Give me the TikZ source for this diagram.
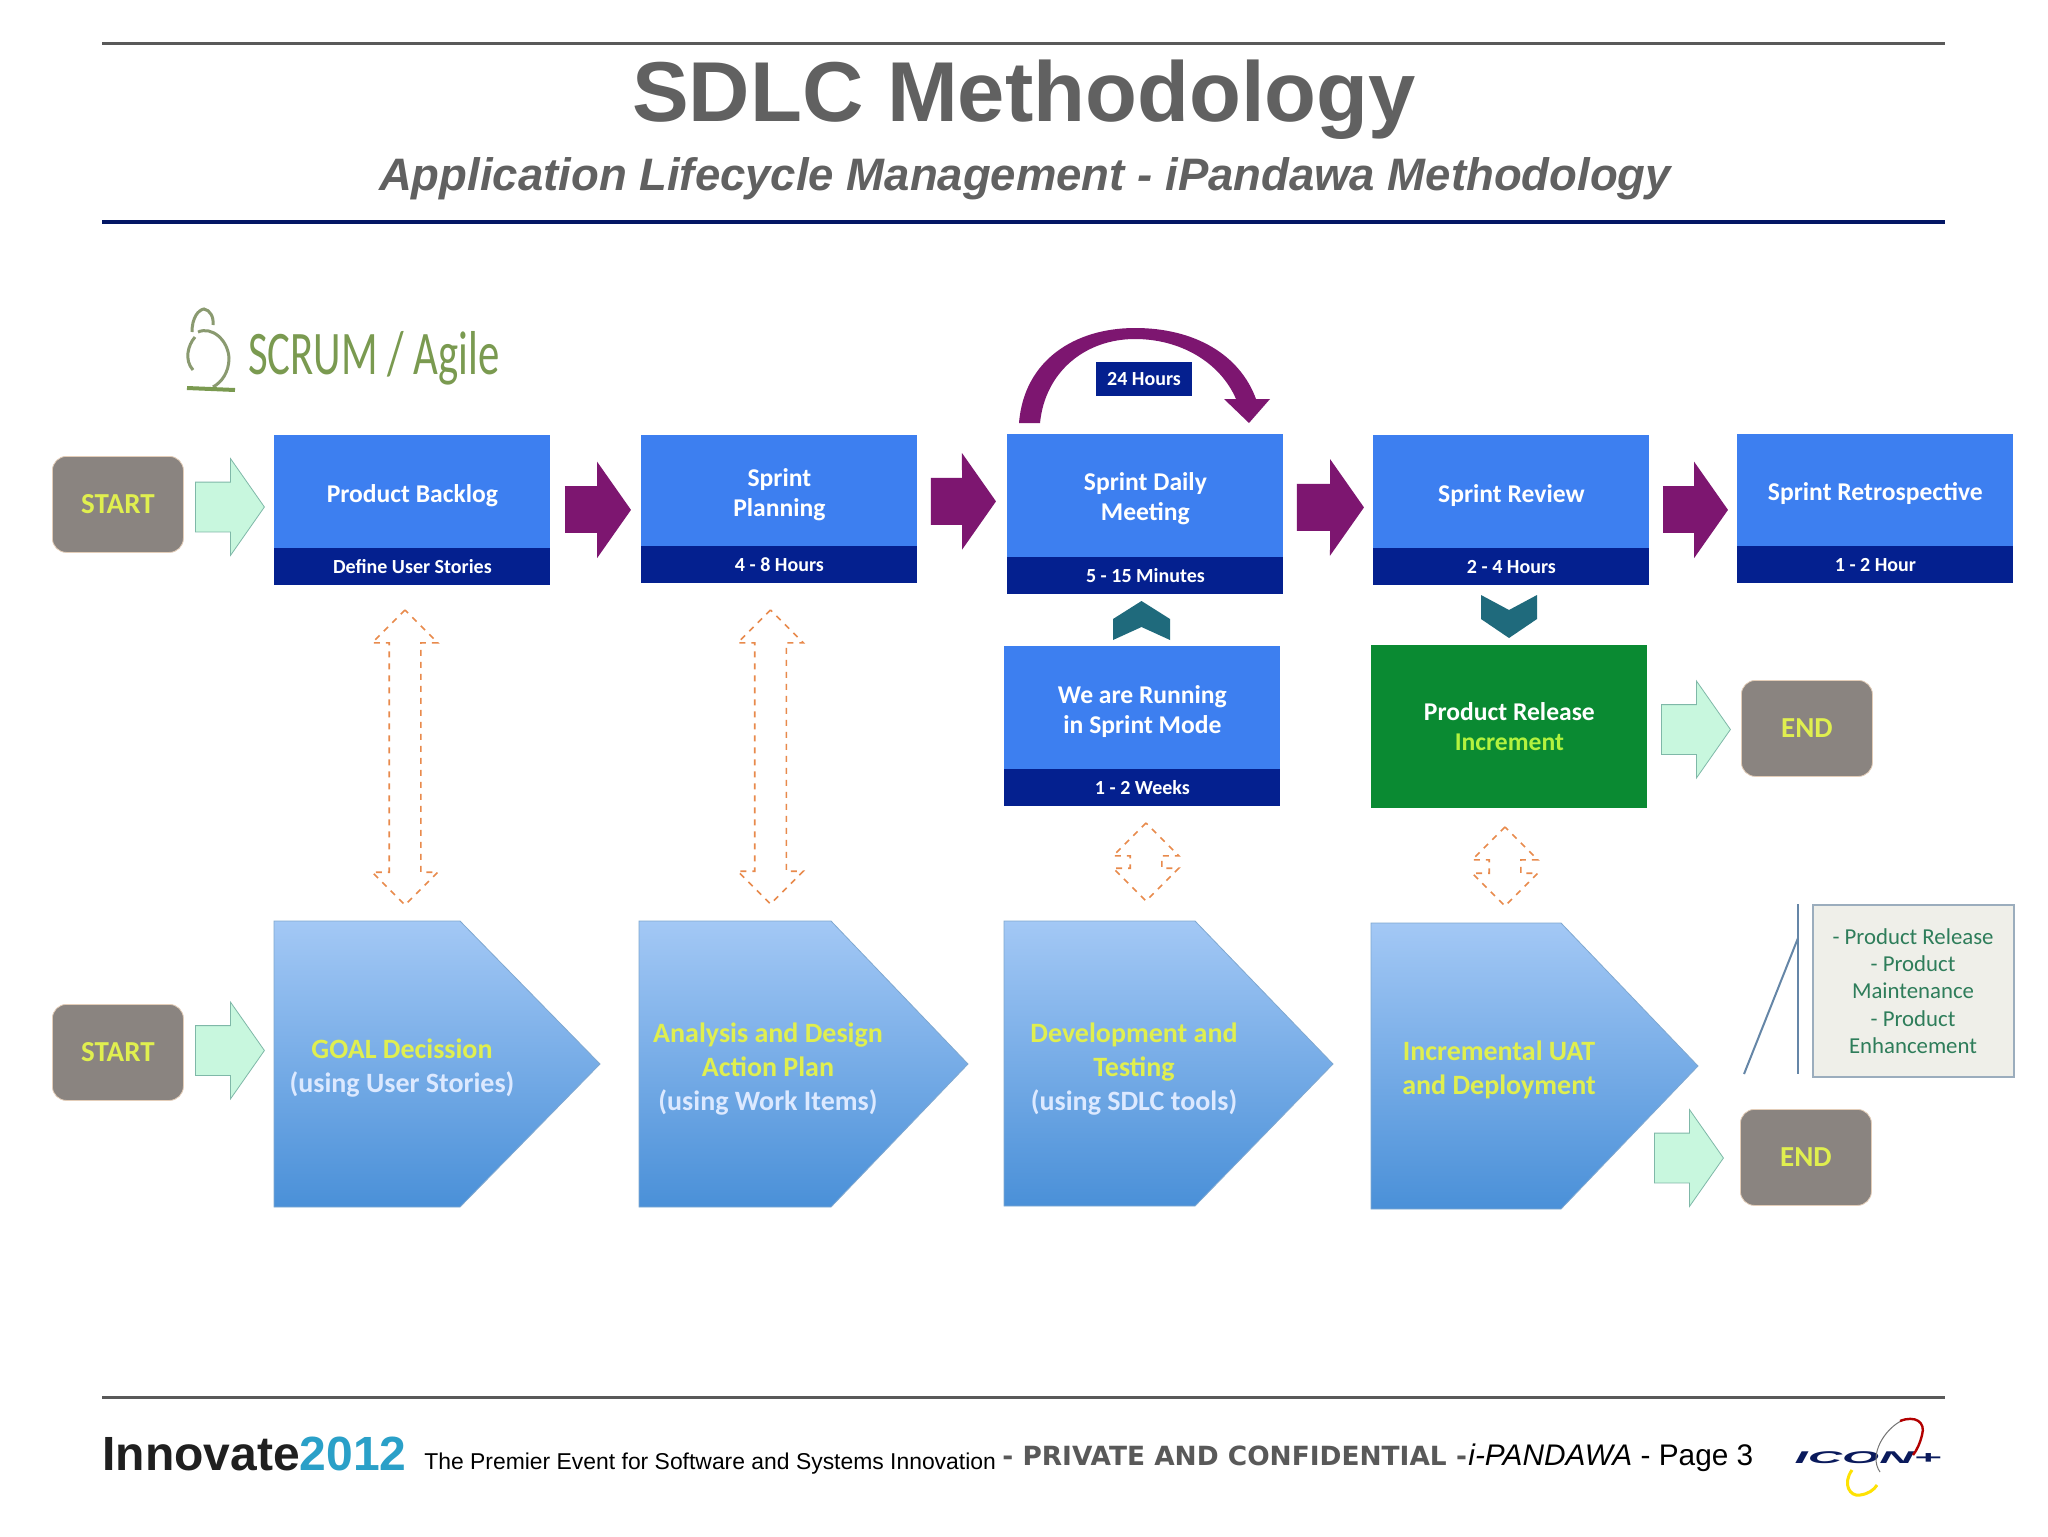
\documentclass[tikz,border=0pt]{standalone}
\usepackage{fontspec}
\usepackage{xcolor}
\usepackage{tikz}
\usetikzlibrary{arrows.meta,positioning,shapes.arrows}
\setmainfont{Carlito}
\newfontfamily\arialfont{Liberation Sans}
\newfontfamily\stampfont{DejaVu Sans}

\definecolor{boxblue}{HTML}{3D7FF0}
\definecolor{bandblue}{HTML}{04208F}
\definecolor{leafgreen}{HTML}{0A8A32}
\definecolor{endgray}{HTML}{8A8480}
\definecolor{palegreen}{HTML}{C8F7DE}
\definecolor{paleedge}{HTML}{7FB8A8}
\definecolor{plum}{HTML}{7D1670}
\definecolor{tealdark}{HTML}{1F6A7C}
\definecolor{dashorange}{HTML}{E88A4C}
\definecolor{penttop}{HTML}{A3C8F5}
\definecolor{pentbot}{HTML}{4A90D8}
\definecolor{pentedge}{HTML}{7FA8D0}
\definecolor{lime}{HTML}{E0EF4F}
\definecolor{paletext}{HTML}{DCE9FF}
\definecolor{notegreen}{HTML}{2E7D5A}
\definecolor{notefill}{HTML}{EFEFE9}
\definecolor{scrumgreen}{HTML}{7A9A50}
\definecolor{sprig}{HTML}{8A9A70}
\definecolor{iconnavy}{HTML}{0A1A5C}

\begin{document}
\begin{tikzpicture}[
  x=0.5pt, y=-0.5pt,
  box/.style={rectangle, fill=boxblue, text=white, inner sep=0pt, minimum width=138pt,
    minimum height=60pt, align=center, anchor=north west,
    font=\fontsize{12.8}{15}\selectfont\bfseries},
  bandbox/.style={rectangle, fill=bandblue, text=white, inner sep=0pt, minimum width=138pt,
    minimum height=18.5pt, align=center, font=\fontsize{10}{11}\selectfont\bfseries},
  ends/.style={rectangle, rounded corners=7pt, fill=endgray, draw=endgray!60!orange!40, text=lime,
    inner sep=0pt, minimum width=65.5pt, minimum height=48pt, anchor=north west,
    font=\fontsize{14.5}{15}\selectfont\bfseries},
  palearrow/.style={single arrow, draw=paleedge, fill=palegreen, inner xsep=0pt, inner ysep=12.25pt,
    minimum height=34.5pt, minimum width=48pt, single arrow head extend=11.75pt,
    single arrow tip angle=110, anchor=tail},
  fatarrow/.style={plum, line width=23.5pt, -{Triangle[length=17pt,width=47.5pt]}},
  dashlink/.style={double arrow, draw=dashorange, dashed, thick, inner xsep=0pt, inner ysep=7.5pt, rotate=90,
    minimum width=32pt, double arrow head extend=8.5pt, double arrow tip angle=90},
  pent/.style={top color=penttop, bottom color=pentbot, draw=pentedge},
  penttext/.style={text=paletext, align=center, inner sep=0pt,
    font=\fontsize{14}{17}\selectfont\bfseries},
  chev/.style={fill=tealdark}
]
\useasboundingbox[fill=white] (0,0) rectangle (2048,1536);

% heading
\draw[line width=1.5pt, black!65] (102,44) -- (1945,44);
\node[text=black!62, font=\arialfont\fontsize{42.5}{44}\selectfont\bfseries] (title) at (1024,100) {SDLC Methodology};
\node[text=black!62, font=\arialfont\fontsize{22.75}{24}\selectfont\bfseries\itshape] (subtitle) at (1025,179) {Application Lifecycle Management - iPandawa Methodology};
\draw[line width=2pt, bandblue!70!black] (102,222) -- (1945,222);

% scrum logo
\draw[sprig, line width=1.5pt] (192,332) .. controls (192,318) and (198,310) .. (204,309)
  .. controls (210,310) and (214,317) .. (213,325);
\draw[sprig, line width=1.5pt] (195,337) .. controls (188,345) and (184,360) .. (193,370);
\draw[sprig, line width=1.5pt] (198,332) .. controls (212,326) and (228,340) .. (229,358)
  .. controls (229,372) and (222,382) .. (213,387);
\draw[scrumgreen, line width=2pt] (187,388) -- (235,390);
\node[text=scrumgreen, anchor=west, inner sep=0pt, xscale=0.69, transform shape, font=\fontsize{31}{33}\selectfont] (scrum) at (248,358) {SCRUM / Agile};

% sprint row
\node[box] (backlog) at (274,435) {Product Backlog};
\node[bandbox, below=-4pt of backlog] (stories) {Define User Stories};
\node[box, minimum height=59pt] (planning) at (641,435) {Sprint\\Planning};
\node[bandbox, below=-4pt of planning] (planhours) {4 - 8 Hours};
\node[box, minimum height=64.75pt] (daily) at (1007,434) {Sprint Daily\\Meeting};
\node[bandbox, below=-4pt of daily] (dailymins) {5 - 15 Minutes};
\node[box] (review) at (1373,435) {Sprint Review};
\node[bandbox, below=-4pt of review] (reviewhours) {2 - 4 Hours};
\node[box, minimum height=59.5pt] (retro) at (1737,434) {Sprint Retrospective};
\node[bandbox, below=-4pt of retro] (retrohours) {1 - 2 Hour};

\node[box, minimum height=65pt] (running) at (1004,646) {We are Running\\in Sprint Mode};
\node[bandbox, below=-4pt of running] (weeks) {1 - 2 Weeks};
\node[box, fill=leafgreen, minimum height=81.5pt] (release) at (1371,645) {Product Release\\{\color{lime!80!green}Increment}};

\node[bandbox, minimum width=48pt, minimum height=17pt] (dayhours) at (1144,379) {24 Hours};

\node[ends] (start) at (52,456) {START};
\node[ends] (finish) at (1741,680) {END};
\node[palearrow] (startarrow) at (195,507) {};
\node[palearrow] (finisharrow) at (1661,729.5) {};

\draw[fatarrow, shorten <=7pt, shorten >=5pt] ([yshift=-7.25pt]backlog.east) -- ([yshift=-7.75pt]planning.west);
\draw[fatarrow, shorten <=6.5pt, shorten >=5.5pt] ([yshift=-3.5pt]planning.east) -- ([yshift=-1.1pt]daily.west);
\draw[fatarrow, shorten <=6.5pt, shorten >=4.5pt] ([yshift=-4.1pt]daily.east) -- ([yshift=-6pt]review.west);
\draw[fatarrow, shorten <=6.5pt, shorten >=4.5pt] ([yshift=-7.25pt]review.east) -- ([yshift=-8pt]retro.west);

% daily loop over the meeting box
\fill[plum] (1019,423) .. controls (1024,360) and (1075,328) .. (1135,328)
  .. controls (1195,328) and (1240,355) .. (1256,399) -- (1270,399) -- (1249,423) -- (1224,399) -- (1236,399)
  .. controls (1220,362) and (1180,339) .. (1135,339)
  .. controls (1085,339) and (1045,372) .. (1040,423) -- cycle;

\fill[chev] (1141.5,601) -- (1170,619) -- (1170,640) -- (1141.5,627) -- (1113,640) -- (1113,619) -- cycle;
\fill[chev] (1481,595) -- (1509,610) -- (1537,595) -- (1537,619) -- (1509,638) -- (1481,619) -- cycle;

% phase row
\shade[pent] (274,921) -- (460,921) -- (600,1064) -- (460,1207) -- (274,1207) -- cycle;
\shade[pent] (639,921) -- (831,921) -- (968,1064) -- (831,1207) -- (639,1207) -- cycle;
\shade[pent] (1004,921) -- (1195,921) -- (1333,1064) -- (1195,1206) -- (1004,1206) -- cycle;
\shade[pent] (1371,923) -- (1561,923) -- (1698,1066) -- (1561,1209) -- (1371,1209) -- cycle;

\node[penttext] (goal) at (402,1068) {{\color{lime}GOAL Decission}\\(using User Stories)};
\node[penttext] (design) at (768,1069) {{\color{lime}Analysis and Design}\\{\color{lime}Action Plan}\\(using Work Items)};
\node[penttext] (testing) at (1134,1069) {{\color{lime}Development and}\\{\color{lime}Testing}\\(using SDLC tools)};
\node[penttext, text=lime] (deploy) at (1499,1070) {Incremental UAT\\and Deployment};

\node[dashlink, minimum height=147.5pt] (linkgoal) at (405,757.5) {};
\node[dashlink, minimum height=147pt] (linkdesign) at (770.5,757) {};
\node[dashlink, minimum height=39pt] (linktesting) at (1146,862) {};
\node[dashlink, minimum height=39.5pt] (linkdeploy) at (1505,866.5) {};

\node[ends] (startb) at (52,1004) {START};
\node[ends] (finishb) at (1740,1109) {END};
\node[palearrow] (startbarrow) at (195,1050.5) {};
\node[palearrow] (finishbarrow) at (1654,1158) {};

% release note
\node[rectangle, fill=notefill, draw=pentedge!70!black!60, line width=1pt, anchor=north west, inner sep=0pt,
  minimum width=100.5pt, minimum height=86pt] (notebox) at (1812,904) {};
\node[text=notegreen, align=center, inner sep=0pt, font=\fontsize{11.4}{13.7}\selectfont] (note) at (1913,991)
  {- Product Release\\- Product\\Maintenance\\- Product\\Enhancement};
\coordinate (bartop) at (1798,904);
\coordinate (barbot) at (1798,1074);
\coordinate (barmid) at (1798,938);
\coordinate (barfoot) at (1744,1074);
\draw[pentedge!80!black, line width=1pt] (bartop) -- (barbot);
\draw[pentedge!80!black, line width=1pt] (barmid) -- (barfoot);

% footer
\draw[line width=1.5pt, black!65] (102,1397) -- (1945,1397);
\node[anchor=base west, inner sep=0pt, text=black!88, font=\arialfont\fontsize{24}{26}\selectfont\bfseries] (innovate) at (102,1470) {Innovate{\color[HTML]{2AA0C8}2012}};
\node[anchor=base west, inner sep=0pt, font=\arialfont\fontsize{11.45}{14}\selectfont] (tagline) at (424,1469) {The Premier Event for Software and Systems Innovation};
\node[anchor=base west, inner sep=0pt, text=black!65, font=\stampfont\fontsize{13.2}{14}\selectfont\bfseries] (stamp) at (1002,1465) {- PRIVATE AND CONFIDENTIAL -};
\node[anchor=base west, inner sep=0pt, font=\arialfont\fontsize{14.9}{17}\selectfont] (pagemark) at (1468,1465) {\textit{i-PANDAWA} - Page 3};
\node[anchor=center, inner sep=0pt, text=iconnavy, xscale=2.8, transform shape, font=\arialfont\fontsize{8.5}{10}\selectfont\bfseries\itshape] (icon) at (1868,1458) {ICON+};
\draw[black!55, line width=0.5pt] (1880,1472) .. controls (1868,1455) and (1885,1428) .. (1903,1420);
\draw[red!70!black, line width=1.2pt] (1900,1421) .. controls (1915,1415) and (1926,1422) .. (1922,1435)
  .. controls (1920,1443) and (1917,1450) .. (1913,1455);
\draw[yellow!85!orange, line width=1.5pt] (1852,1470) .. controls (1842,1484) and (1850,1497) .. (1860,1495)
  .. controls (1868,1494) and (1874,1490) .. (1877,1485);
\end{tikzpicture}
\end{document}
